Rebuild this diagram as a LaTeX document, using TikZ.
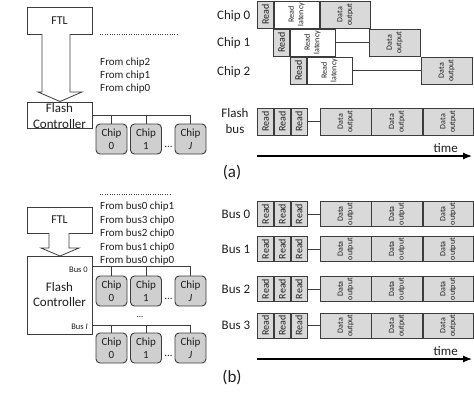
\documentclass[tikz,border=0pt]{standalone}
\usepackage{fontspec}
\setmainfont{Carlito}
\usepackage{graphicx}
\usetikzlibrary{arrows.meta}

\definecolor{boxgray}{HTML}{D9D9D9}
\definecolor{chipgray}{HTML}{CFCFCF}
\definecolor{edge}{HTML}{3C3C3C}
\definecolor{ink}{HTML}{1E1E1E}

\newcommand{\rdtext}{\rotatebox{90}{Read}}
\newcommand{\lattext}{\rotatebox{90}{\begin{tabular}{@{}c@{}}Read\\latency\end{tabular}}}
\newcommand{\dattext}{\rotatebox{90}{\begin{tabular}{@{}c@{}}Data\\output\end{tabular}}}

\begin{document}
\begin{tikzpicture}[x=1pt,y=-1pt,text=ink,
	box/.style={draw=edge,line width=0.8pt,inner sep=0pt,minimum height=27pt},
	rd/.style={box,fill=boxgray,minimum width=16pt,font=\fontsize{10}{11}\selectfont},
	lat/.style={box,fill=white,minimum width=45pt,font=\fontsize{8}{9.5}\selectfont},
	dat/.style={box,fill=boxgray,minimum width=50.5pt,font=\fontsize{8}{9.5}\selectfont},
	ctrl/.style={box,fill=white,minimum width=65pt},
	chip/.style={draw=edge,fill=chipgray,line width=0.9pt,rounded corners=4pt,minimum width=31pt,minimum height=30pt,inner sep=0pt,align=center,font=\fontsize{11}{13.5}\selectfont},
	lbl/.style={inner sep=0pt,font=\fontsize{13}{16}\selectfont},
	from/.style={inner sep=0pt,anchor=west,font=\fontsize{11}{13}\selectfont},
	wire/.style={draw=edge,line width=0.9pt},
	dotline/.style={draw=edge,line width=1pt,dash pattern=on 0.9pt off 1.5pt},
	hollow/.style={draw=edge,line width=0.8pt,fill=white,line join=miter},
	timeline/.style={draw=black,line width=1.2pt,-{Latex[length=9pt,width=7pt]}}]
	\useasboundingbox (0,0) rectangle (474,410);

	% (a) chip-level, left
	\node[ctrl] (ftla) at (59.5,20.5) {\fontsize{12}{14}\selectfont FTL};
	\draw[dotline] (100,34) -- (178,34);
	\node[from] (fa2) at (100,63) {From chip2};
	\node[from] (fa1) at (100,76) {From chip1};
	\node[from] (fa0) at (100,89) {From chip0};
	\node[ctrl,minimum height=26pt] (fca) at (59.5,115) {};
	\node[lbl,align=center] (fcatext) at (59.5,116) {Flash\\Controller};
	\draw[hollow] (42,34) -- (42,92) -- (38,92) -- (60,101.5) -- (82,92) -- (70,92) -- (70,34);
	\node[chip] (c0a) at (111.5,139) {Chip\\0};
	\node[chip] (c1a) at (146,139) {Chip\\1};
	\node[chip] (cJa) at (190.5,139) {Chip\\\textit{J}};
	\node[inner sep=0pt,anchor=base,font=\fontsize{11}{13}\selectfont] (dota) at (168.5,147) {...};
	\draw[wire] (fca.east) -- (cJa.north |- fca.east) -- (cJa.north);
	\draw[wire] (c0a.north |- fca.east) -- (c0a.north);
	\draw[wire] (c1a.north |- fca.east) -- (c1a.north);

	% (a) chip-level, timing
	\node[lbl,anchor=west] (chip0) at (217,16) {Chip 0};
	\node[rd,anchor=west] (rd0) at (257,14.5) {\rdtext};
	\node[lat,anchor=west] (lt0) at (rd0.east) {\lattext};
	\node[dat,anchor=west] (dt0) at (lt0.east) {\dattext};

	\node[lbl,anchor=west] (chip1) at (217,43) {Chip 1};
	\node[rd,anchor=west] (rd1) at (273,42.5) {\rdtext};
	\node[lat,anchor=west] (lt1) at (rd1.east) {\lattext};
	\node[dat,anchor=west] (dt1) at (369,42.5) {\dattext};
	\draw[wire] (lt1) -- (dt1);

	\node[lbl,anchor=west] (chip2) at (217,72) {Chip 2};
	\node[rd,anchor=west] (rd2) at (290,70.5) {\rdtext};
	\node[lat,anchor=west] (lt2) at (rd2.east) {\lattext};
	\node[dat,anchor=west] (dt2) at (421,70.5) {\dattext};
	\draw[wire] (lt2) -- (dt2);

	\node[lbl,align=center] (flashbus) at (235,121.5) {Flash\\bus};
	\node[rd,anchor=west] (fr1) at (257,121.5) {\rdtext};
	\node[rd,anchor=west] (fr2) at (fr1.east) {\rdtext};
	\node[rd,anchor=west] (fr3) at (fr2.east) {\rdtext};
	\node[dat,anchor=west] (fd1) at (320,121.5) {\dattext};
	\node[dat,anchor=west] (fd2) at (fd1.east) {\dattext};
	\node[dat,anchor=west] (fd3) at (fd2.east) {\dattext};
	\draw[wire] (fr3) -- (fd1);

	\coordinate (ta0) at (257,156);
	\coordinate (ta1) at (472,156);
	\draw[timeline] (ta0) -- (ta1);
	\node[lbl,anchor=base east] (timea) at (458,152) {time};
	\node[inner sep=0pt,font=\fontsize{17}{20}\selectfont] (capa) at (232,172) {(a)};

	% (b) bus-level, left
	\draw[dotline] (100,194) -- (170,194);
	\node[from] (fb4) at (100,207) {From bus0 chip1};
	\node[from] (fb3) at (100,220.5) {From bus3 chip0};
	\node[from] (fb2) at (100,234) {From bus2 chip0};
	\node[from] (fb1) at (100,247.5) {From bus1 chip0};
	\node[from] (fb0) at (100,261) {From bus0 chip0};
	\node[ctrl,minimum height=26pt] (ftlb) at (59.5,220) {\fontsize{12}{14}\selectfont FTL};
	\node[ctrl,minimum height=78pt,align=center,font=\fontsize{13}{15}\selectfont] (fcb) at (59.5,295) {Flash\\Controller};
	\draw[hollow] (49,233) -- (49,248) -- (41,248) -- (60,256) -- (79,248) -- (69,248) -- (69,233);
	\node[inner sep=0pt,anchor=east,font=\fontsize{8.5}{10}\selectfont] (bus0lbl) at (88,270) {Bus 0};
	\node[inner sep=0pt,anchor=east,font=\fontsize{8.5}{10}\selectfont] (busIlbl) at (88,327) {Bus \textit{I}};
	\coordinate (bus0) at (92,266);
	\coordinate (busI) at (92,325);
	\node[chip] (c0b) at (111.5,291) {Chip\\0};
	\node[chip] (c1b) at (146,291) {Chip\\1};
	\node[chip] (cJb) at (190.5,291) {Chip\\\textit{J}};
	\node[inner sep=0pt,anchor=base,font=\fontsize{11}{13}\selectfont] (dotb) at (168.5,299) {...};
	\draw[wire] (bus0) -- (cJb.north |- bus0) -- (cJb.north);
	\draw[wire] (c0b.north |- bus0) -- (c0b.north);
	\draw[wire] (c1b.north |- bus0) -- (c1b.north);
	\node[inner sep=0pt,anchor=base,font=\fontsize{9}{11}\selectfont] (dotmid) at (140,317) {...};
	\node[chip] (c0c) at (111.5,348) {Chip\\0};
	\node[chip] (c1c) at (146,348) {Chip\\1};
	\node[chip] (cJc) at (190.5,348) {Chip\\\textit{J}};
	\node[inner sep=0pt,anchor=base,font=\fontsize{11}{13}\selectfont] (dotc) at (168.5,356) {...};
	\draw[wire] (busI) -- (cJc.north |- busI) -- (cJc.north);
	\draw[wire] (c0c.north |- busI) -- (c0c.north);
	\draw[wire] (c1c.north |- busI) -- (c1c.north);

	% (b) bus-level, timing
	\foreach \y/\n in {214/0,249/1,289/2,325.5/3}{
		\node[lbl] (bus\n) at (236,\y) {Bus \n};
		\node[rd,minimum height=25pt,anchor=west] (b\n r1) at (257,\y) {\rdtext};
		\node[rd,minimum height=25pt,anchor=west] (b\n r2) at (b\n r1.east) {\rdtext};
		\node[rd,minimum height=25pt,anchor=west] (b\n r3) at (b\n r2.east) {\rdtext};
		\node[dat,minimum height=25pt,anchor=west] (b\n d1) at (320,\y) {\dattext};
		\node[dat,minimum height=25pt,anchor=west] (b\n d2) at (b\n d1.east) {\dattext};
		\node[dat,minimum height=25pt,anchor=west] (b\n d3) at (b\n d2.east) {\dattext};
		\draw[wire] (b\n r3) -- (b\n d1);
	}

	\coordinate (tb0) at (257,359);
	\coordinate (tb1) at (472,359);
	\draw[timeline] (tb0) -- (tb1);
	\node[lbl,anchor=base east] (timeb) at (458,355) {time};
	\node[inner sep=0pt,font=\fontsize{17}{20}\selectfont] (capb) at (232,377) {(b)};
\end{tikzpicture}
\end{document}
